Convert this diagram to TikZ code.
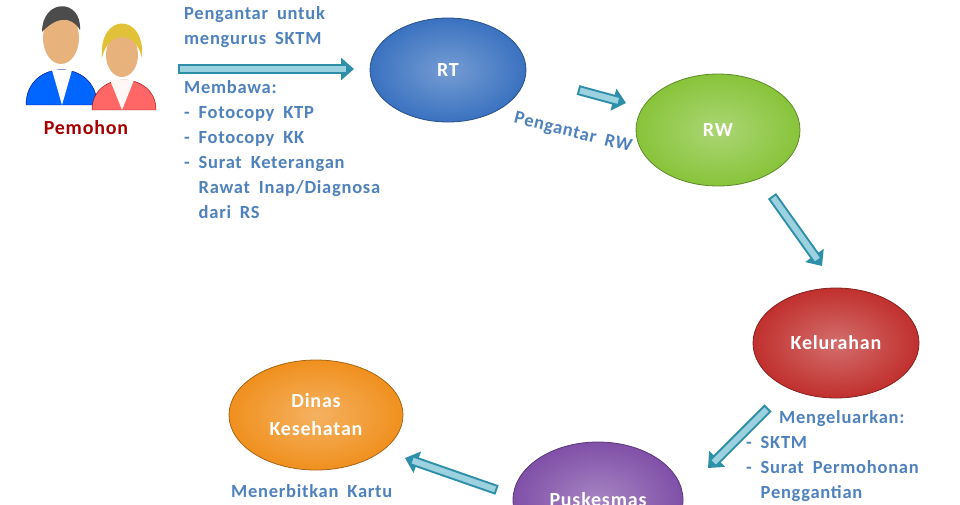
\documentclass[tikz,border=0pt]{standalone}
\usepackage{fontspec}
\setmainfont{Carlito}[LetterSpace=4,WordSpace=1.8]
\usetikzlibrary{arrows.meta,shapes.geometric}
\definecolor{tblue}{HTML}{4F81BD}
\definecolor{acyan}{HTML}{4BACC6}
\definecolor{acyand}{HTML}{2E8FA8}
\begin{document}
\begin{tikzpicture}[x=1pt,y=-1pt,
  lbl/.style={text=tblue,font=\bfseries\fontsize{18.5}{25}\selectfont,align=left,inner sep=0pt},
  blob/.style={ellipse,draw=#1!70!black,line width=0.8pt,inner sep=0pt,text=white,font=\bfseries\fontsize{20}{28}\selectfont,align=center,shading=radial,inner color=#1!70!white,outer color=#1},
  flow/.style={draw=acyand,line width=10pt,-{Triangle[width=22pt,length=13pt]}},
  flowin/.style={draw=acyan!55!white,line width=6pt,shorten >=8pt,shorten <=2pt}]
\useasboundingbox (0,0) rectangle (960,504);
\definecolor{cRT}{HTML}{3A72C0}
\definecolor{cRW}{HTML}{88C43A}
\definecolor{cKel}{HTML}{C0302E}
\definecolor{cDin}{HTML}{F0901E}
\definecolor{cPus}{HTML}{8050A8}
\node[blob=cRT,minimum width=156,minimum height=104] (rt) at (448,70) {RT};
\node[blob=cRW,minimum width=164,minimum height=112] (rw) at (718,130) {RW};
\node[blob=cKel,minimum width=166,minimum height=110] (kel) at (836,343) {Kelurahan};
\node[blob=cDin,minimum width=174,minimum height=110] (din) at (316,415) {Dinas\\Kesehatan};
\node[blob=cPus,minimum width=170,minimum height=116] (pus) at (598,500) {Puskesmas};
% person icon
\fill[blue!60!cyan,draw=blue!50!black] (26,105) .. controls (26,58) and (97,58) .. (97,105) -- cycle;
\fill[white] (52,70) -- (62,105) -- (72,70) -- cycle;
\fill[brown!60!orange!60!white] (61,38) ellipse (18 and 26);
\fill[black!70] (42,32) .. controls (42,-2) and (82,-2) .. (80,30) .. controls (70,14) and (55,18) .. (42,32) -- cycle;
\fill[red!60!white,draw=red!60!black] (92,110) .. controls (92,70) and (156,70) .. (156,110) -- cycle;
\fill[white!85!pink] (110,80) -- (122,110) -- (134,80) -- cycle;
\fill[brown!60!orange!60!white] (122,55) ellipse (16 and 22);
\fill[yellow!50!brown] (102,58) .. controls (98,12) and (146,12) .. (142,58) .. controls (136,30) and (108,30) .. (102,58) -- cycle;
\node[text=red!65!black,font=\bfseries\fontsize{20}{22}\selectfont] (pemlbl) at (86,128) {Pemohon};
% coordinates for arrows
\coordinate (a1s) at (178,69); \coordinate (a1e) at (354,69);
\coordinate (a2s) at (578,90); \coordinate (a2e) at (626,103);
\coordinate (a3s) at (772,196); \coordinate (a3e) at (822,266);
\coordinate (a4s) at (768,408); \coordinate (a4e) at (708,468);
\coordinate (a5s) at (497,490); \coordinate (a5e) at (405,458);
\foreach \s/\e in {a1s/a1e,a2s/a2e,a3s/a3e,a4s/a4e,a5s/a5e}{
  \draw[flow] (\s) -- (\e);
  \draw[flowin] (\s) -- (\e);
}
\node[lbl,anchor=north west] (t1) at (184,6) {Pengantar untuk\\mengurus SKTM};
\node[lbl,anchor=north west] (t2) at (184,80) {Membawa:\\- Fotocopy KTP\\- Fotocopy KK\\- Surat Keterangan\\\phantom{- }Rawat Inap/Diagnosa\\\phantom{- }dari RS};
\node[lbl,rotate=-14] (t3) at (573,133) {Pengantar RW};
\node[lbl,anchor=north west] (t4) at (746,410) {\phantom{- }\hspace{1.0em}Mengeluarkan:\\- SKTM\\- Surat Permohonan\\\phantom{- }Penggantian};
\node[lbl,anchor=north west] (t5) at (231,484) {Menerbitkan Kartu};
\end{tikzpicture}
\end{document}
